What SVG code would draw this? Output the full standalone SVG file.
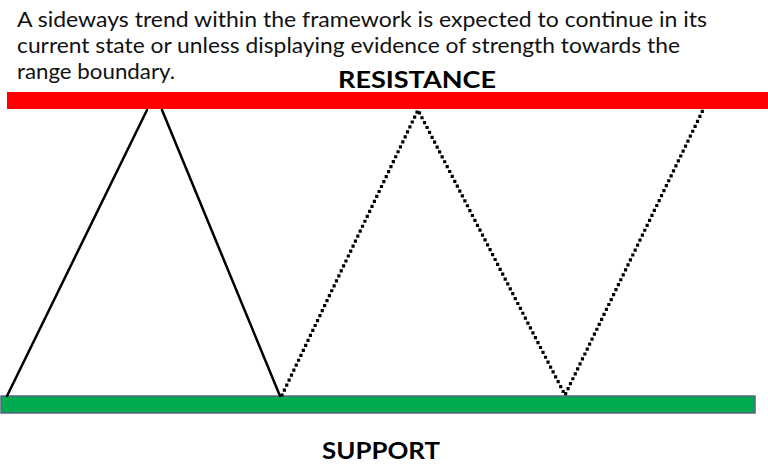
<svg xmlns="http://www.w3.org/2000/svg" width="768" height="474" viewBox="0 0 768 474">
<style>
.t{font-family:Lato,"Open Sans","Liberation Sans",sans-serif;font-size:21px;fill:#111}
.lbl{font-family:Lato,"Liberation Sans",sans-serif;font-size:22px;font-weight:bold;fill:#000}
.solid{stroke:#000;stroke-width:2.5;fill:none;stroke-linecap:round}
.dot{stroke:#000;stroke-width:3.2;fill:none;stroke-dasharray:0 5.5;stroke-linecap:square}
</style>
<rect width="768" height="474" fill="#fff"/>
<g id="caption">
<text class="t" x="17" y="27" textLength="690" lengthAdjust="spacingAndGlyphs">A sideways trend within the framework is expected to continue in its</text>
<text class="t" x="17" y="53" textLength="663" lengthAdjust="spacingAndGlyphs">current state or unless displaying evidence of strength towards the</text>
<text class="t" x="17" y="79" textLength="158" lengthAdjust="spacingAndGlyphs">range boundary.</text>
</g>
<g id="resistance">
<rect x="7" y="92" width="761" height="17" fill="#ff0000"/>
<text class="lbl" x="338" y="88" textLength="158" lengthAdjust="spacingAndGlyphs">RESISTANCE</text>
</g>
<g id="support">
<rect x="1" y="396" width="754" height="17" fill="#00aa4f" stroke="#5a6483" stroke-width="1.5"/>
<text class="lbl" x="322" y="459" textLength="118" lengthAdjust="spacingAndGlyphs">SUPPORT</text>
</g>
<g id="connectors">
<line class="solid" x1="7" y1="396" x2="147" y2="110"/>
<line class="solid" x1="162" y1="110" x2="280" y2="396"/>
<polyline class="dot" points="282,395 418,110 565,395 703,110"/>
</g>
</svg>
